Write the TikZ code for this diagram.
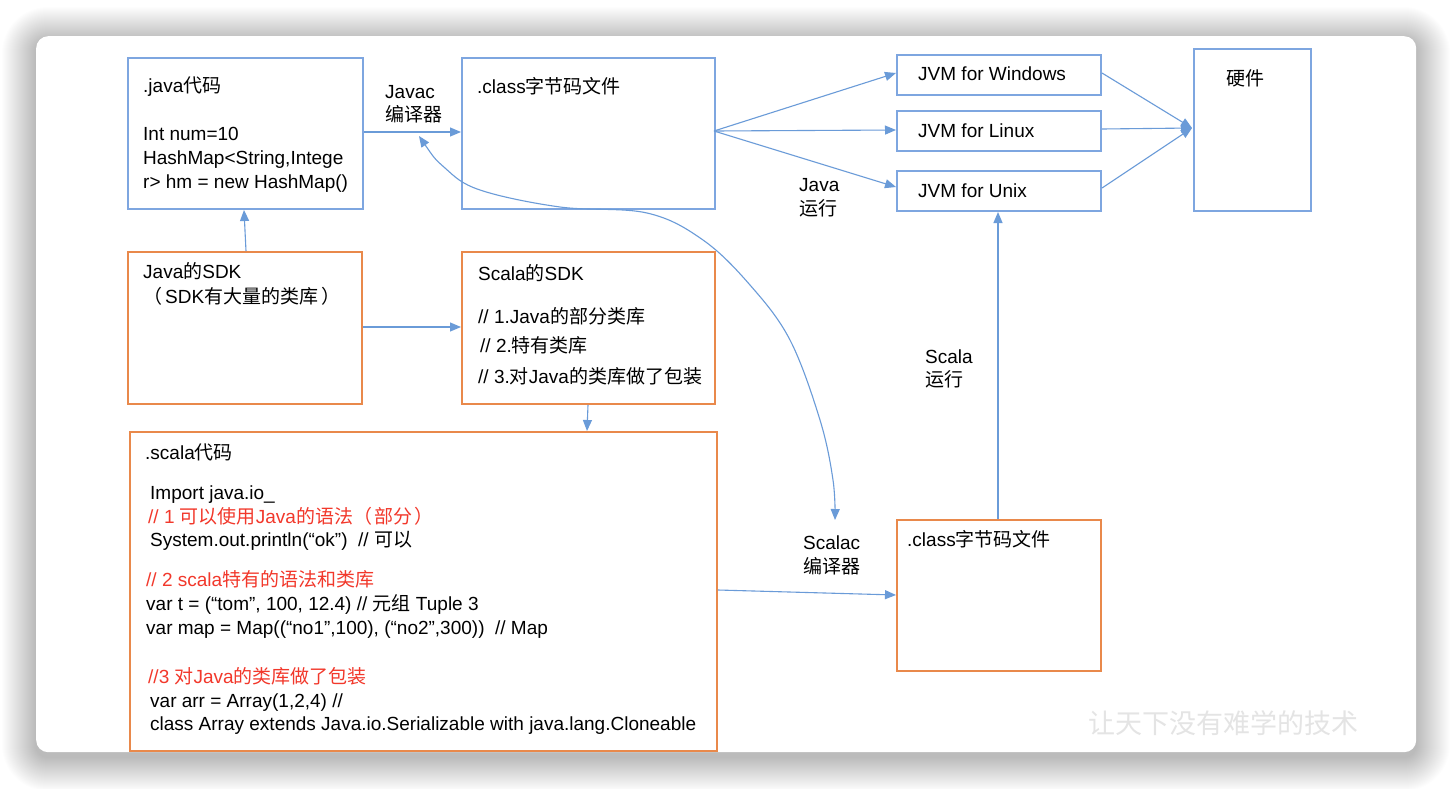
\documentclass[tikz,border=0pt]{standalone}
\usepackage{fontspec}
\setmainfont{Liberation Sans}
\newfontfamily\zhfont{Noto Sans CJK SC}
\newcommand\zh[1]{{\zhfont #1}}
\usetikzlibrary{arrows.meta}
\definecolor{boxblue}{RGB}{126,166,224}
\definecolor{arrowblue}{RGB}{106,155,216}
\definecolor{boxorange}{RGB}{233,137,75}
\definecolor{codered}{RGB}{242,56,43}
\definecolor{wmgray}{RGB}{228,228,228}
\tikzset{
  bluebox/.style={draw=boxblue, line width=2pt, fill=white, anchor=north west, inner sep=0pt},
  orangebox/.style={draw=boxorange, line width=2pt, fill=white, anchor=north west, inner sep=0pt},
  txt/.style={anchor=base west, inner sep=0pt, font=\fontsize{19}{24}\selectfont, text=black},
  redtxt/.style={txt, text=codered},
  arr/.style={draw=arrowblue, line width=1.1pt, -{Triangle[length=11pt,width=9pt]}},
  arrboth/.style={draw=arrowblue, line width=1.1pt, {Triangle[length=11pt,width=9pt]}-{Triangle[length=11pt,width=9pt]}},
}
\begin{document}
\begin{tikzpicture}[x=1pt,y=-1pt]
\useasboundingbox (0,0) rectangle (1452,788);
\fill[white] (0,0) rectangle (1452,788);
% shadow
\foreach \k in {1,...,34}{
  \fill[black, fill opacity=0.0065, rounded corners=12+\k] (36-\k,36-\k+5) rectangle (1416+\k,752+\k+5);
}
\node[fill=white, rounded corners=12, minimum width=1380, minimum height=716, anchor=north west, inner sep=0pt] (card) at (36,36) {};
% watermark
\node[anchor=base west, inner sep=0pt, text=wmgray, font=\zhfont\fontsize{27}{30}\selectfont] (wm) at (1088,733) {让天下没有难学的技术};

% boxes
\node[bluebox, minimum width=235, minimum height=151] (java) at (127,57) {};
\node[bluebox, minimum width=253, minimum height=151] (cls) at (461,57) {};
\node[bluebox, minimum width=204, minimum height=40] (win) at (896,54) {};
\node[bluebox, minimum width=204, minimum height=40] (lin) at (896,110) {};
\node[bluebox, minimum width=204, minimum height=40] (unx) at (896,170) {};
\node[bluebox, minimum width=117, minimum height=162] (hw) at (1193,48) {};
\node[orangebox, minimum width=234, minimum height=152] (jsdk) at (127,251) {};
\node[orangebox, minimum width=253, minimum height=152] (ssdk) at (461,251) {};
\node[orangebox, minimum width=587, minimum height=319] (scala) at (129,431) {};
\node[orangebox, minimum width=204, minimum height=151] (cls2) at (896,519) {};

% texts
\node[txt] (t1) at (143,92) {.java\zh{代码}};
\node[txt] (t2) at (143,140) {Int num=10};
\node[txt] (t3) at (143,164) {HashMap<String,Intege};
\node[txt] (t4) at (143,188) {r> hm = new HashMap()};
\node[txt] (l1) at (385,98) {Javac};
\node[txt] (l2) at (385,121) {\zh{编译器}};
\node[txt] (t5) at (477,93) {.class\zh{字节码文件}};
\node[txt] (t6) at (918,80) {JVM for Windows};
\node[txt] (t7) at (918,137) {JVM for Linux};
\node[txt] (t8) at (918,197) {JVM for Unix};
\node[txt] (t9) at (1226,85) {\zh{硬件}};
\node[txt] (l3) at (799,191) {Java};
\node[txt] (l4) at (799,215) {\zh{运行}};
\node[txt] (l5) at (925,363) {Scala};
\node[txt] (l6) at (925,386) {\zh{运行}};
\node[txt] (s1) at (143,278) {Java\zh{的}SDK};
\node[txt] (s2) at (143,303) {\zh{（}\hspace{3pt}SDK\zh{有大量的类库}\hspace{3pt}\zh{）}};
\node[txt] (s3) at (478,280) {Scala\zh{的}SDK};
\node[txt] (s4) at (478,323) {// 1.Java\zh{的部分类库}};
\node[txt] (s5) at (480,352) {// 2.\zh{特有类库}};
\node[txt] (s6) at (478,383) {// 3.\zh{对}Java\zh{的类库做了包装}};
\node[txt] (c1) at (145,459) {.scala\zh{代码}};
\node[txt] (c2) at (150,499) {Import java.io\_};
\node[redtxt] (c3) at (148,523) {// 1 \zh{可以使用}Java\zh{的语法（}\hspace{2pt}\zh{部分}\hspace{2pt}\zh{）}};
\node[txt] (c4) at (150,546) {System.out.println(“ok”)\ \ // \zh{可以}};
\node[redtxt] (c5) at (146,586) {// 2 scala\zh{特有的语法和类库}};
\node[txt] (c6) at (146,610) {var t = (“tom”, 100, 12.4) // \zh{元组} Tuple 3};
\node[txt] (c7) at (146,634) {var map = Map((“no1”,100), (“no2”,300))\ \ // Map};
\node[redtxt] (c8) at (148,683) {//3 \zh{对}Java\zh{的类库做了包装}};
\node[txt] (c9) at (150,707) {var arr = Array(1,2,4) //};
\node[txt] (c10) at (150,730) {class Array extends Java.io.Serializable with java.lang.Cloneable};
\node[txt] (l7) at (803,549) {Scalac};
\node[txt] (l8) at (803,573) {\zh{编译器}};
\node[txt] (t10) at (907,546) {.class\zh{字节码文件}};

% connectors
\draw[arr] (java.east |- 0,132) -- (cls.west |- 0,132);
\draw[arr] ([xshift=119pt]jsdk.north west) -- ([xshift=117pt]java.south west);
\draw[arr] (jsdk.east |- 0,327) -- (ssdk.west |- 0,327);
\draw[arr] ([xshift=127pt]ssdk.south west) -- ([xshift=458pt]scala.north west);
\draw[arr] (scala.east |- 0,590) -- (cls2.west |- 0,595);
\draw[arr] ([xshift=102pt]cls2.north west) -- ([xshift=102pt]unx.south west);
\coordinate (fan) at (714,131);
\draw[arr] (fan) -- (win.west |- 0,73);
\draw[arr] (fan) -- (lin.west |- 0,130);
\draw[arr] (fan) -- (unx.west |- 0,187);
\coordinate (hwin) at (1192,128);
\draw[arr] (win.east |- 0,73) -- (hwin);
\draw[arr] (lin.east |- 0,129) -- (hwin);
\draw[arr] (unx.east |- 0,188) -- (hwin);
\coordinate (cvA) at (419,136);
\coordinate (cvB) at (835,520);
\draw[arrboth] plot[smooth, tension=0.6] coordinates {(cvA) (445,168) (480,190) (560,207) (647,213) (703,240) (750,285) (790,340) (820,420) (833,480) (cvB)};
\end{tikzpicture}
\end{document}
